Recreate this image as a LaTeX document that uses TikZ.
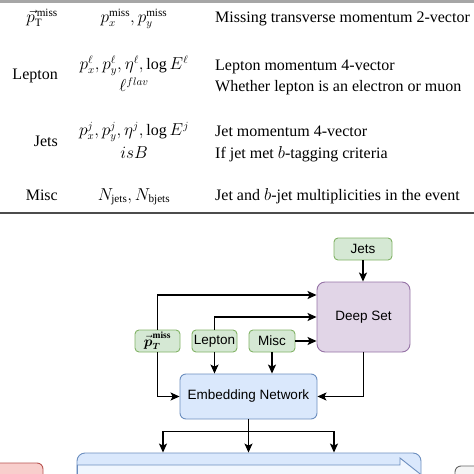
\documentclass[tikz,border=0pt]{standalone}
\usepackage{amsmath}
\usepackage{amssymb}
\usepackage{fontspec}
\setmainfont{Liberation Serif}
\newfontfamily\diagfont{Liberation Sans}
\usetikzlibrary{arrows.meta}
\definecolor{greenfill}{HTML}{D5E8D4}
\definecolor{greenedge}{HTML}{82B366}
\definecolor{purplefill}{HTML}{E1D5E7}
\definecolor{purpleedge}{HTML}{9673A6}
\definecolor{bluefill}{HTML}{DAE8FC}
\definecolor{blueedge}{HTML}{6C8EBF}
\definecolor{redfill}{HTML}{F8CECC}
\definecolor{rededge}{HTML}{B85450}
\definecolor{grayfill}{HTML}{F5F5F5}
\definecolor{grayedge}{HTML}{666666}

\begin{document}
\begin{tikzpicture}[x=1pt,y=-1pt,
	tabtext/.style={font=\fontsize{16}{19}\selectfont, inner sep=0pt},
	box/.style={draw, rounded corners=4pt, line width=0.9pt, inner sep=0pt, font=\diagfont\fontsize{13.5}{16}\selectfont},
	inbox/.style={box, draw=greenedge, fill=greenfill, minimum height=22pt},
	arr/.style={-{Stealth[length=9pt,width=8pt,inset=2pt]}, line width=1.2pt}]
	%Frame
	\useasboundingbox (0,0) rectangle (474,474);
	\clip (0,0) rectangle (474,474);
	%Rules
	\fill [black!35] (0,0) rectangle (474,3);
	\fill [black!70] (0,212) rectangle (474,214);
	%Row MET
	\node [tabtext, anchor=mid east] (metname) at (58,20) {$\vec{p}_{\mathrm{T}}^{\,\mathrm{miss}}$};
	\node [tabtext, anchor=mid] (metvars) at (134,20) {$p_x^{\mathrm{miss}}, p_y^{\mathrm{miss}}$};
	\node [tabtext, anchor=mid west] (metdesc) at (215,20) {Missing transverse momentum 2-vector};
	%Row Lepton
	\node [tabtext, anchor=mid east] (lepname) at (58,77) {Lepton};
	\node [tabtext, anchor=mid] (lepvars) at (134,67) {$p_x^\ell, p_y^\ell, \eta^\ell, \log E^\ell$};
	\node [tabtext, anchor=mid] (lepflav) at (134,89) {$\ell^{flav}$};
	\node [tabtext, anchor=mid west] (lepdesc) at (215,68) {Lepton momentum 4-vector};
	\node [tabtext, anchor=mid west] (flavdesc) at (215,89) {Whether lepton is an electron or muon};
	%Row Jets
	\node [tabtext, anchor=mid east] (jetname) at (58,144) {Jets};
	\node [tabtext, anchor=mid] (jetvars) at (134,133) {$p_x^j, p_y^j, \eta^j, \log E^j$};
	\node [tabtext, anchor=mid] (jetisb) at (134,156) {$isB$};
	\node [tabtext, anchor=mid west] (jetdesc) at (215,134) {Jet momentum 4-vector};
	\node [tabtext, anchor=mid west] (isbdesc) at (215,156) {If jet met $b$-tagging criteria};
	%Row Misc
	\node [tabtext, anchor=mid east] (miscname) at (58,198) {Misc};
	\node [tabtext, anchor=mid] (miscvars) at (134,198) {$N_{\mathrm{jets}}, N_{\mathrm{bjets}}$};
	\node [tabtext, anchor=mid west] (miscdesc) at (215,198) {Jet and $b$-jet multiplicities in the event};
	%Inputs
	\node [inbox, minimum width=58pt] (jets) at (363,249) {Jets};
	\node [inbox, minimum width=45pt] (ptmiss) at (157.5,341) {$\vec{\boldsymbol{p}}_{\boldsymbol{T}}^{\mathbf{miss}}$};
	\node [inbox, minimum width=45pt] (lepton) at (214.5,341) {Lepton};
	\node [inbox, minimum width=46pt] (misc) at (272,341) {Misc};
	%Networks
	\node [box, draw=purpleedge, fill=purplefill, minimum width=93pt, minimum height=70pt, rounded corners=8pt] (deepset) at (363.5,317) {Deep Set};
	\node [box, draw=blueedge, fill=bluefill, minimum width=137pt, minimum height=45pt, rounded corners=6pt] (embed) at (248.5,396.5) {Embedding Network};
	%Bottom row
	\node [box, draw=blueedge, fill=bluefill, minimum width=344pt, minimum height=60pt, rounded corners=8pt] (bigbox) at (249,483) {};
	\draw [draw=blueedge, fill=bluefill!40!white, line width=0.9pt] (77.4,490) -- (77.4,465) -- (400,465) -- (400,458) -- (424,477) -- (424,490);
	\node [box, draw=rededge, fill=redfill, minimum width=66pt, minimum height=44pt, rounded corners=6pt] (leftbox) at (10,485) {};
	\node [box, draw=grayedge, fill=grayfill, minimum width=70pt, minimum height=44pt, rounded corners=6pt] (rightbox) at (490,488) {};
	%Arrows into Deep Set
	\draw [arr] (jets.south) -- (jets.south |- deepset.north);
	\draw [arr] (ptmiss.north) |- ([yshift=22pt]deepset.west);
	\draw [arr] (lepton.north) |- (deepset.west);
	\draw [arr] (misc.east) -- (misc.east -| deepset.west);
	%Arrows into Embedding Network
	\draw [arr] (ptmiss.south) |- (embed.west);
	\draw [arr] (lepton.south) -- (lepton.south |- embed.north);
	\draw [arr] (misc.south) -- (misc.south |- embed.north);
	\draw [arr] (deepset.south) |- (embed.east);
	%Arrows out of Embedding Network
	\draw [arr] (embed.south) -- (embed.south |- bigbox.north);
	\draw [arr] (embed.south) -- ++(0,12) -| ([xshift=-86pt]bigbox.north);
	\draw [arr] (embed.south) -- ++(0,12) -| ([xshift=85pt]bigbox.north);
\end{tikzpicture}
\end{document}
